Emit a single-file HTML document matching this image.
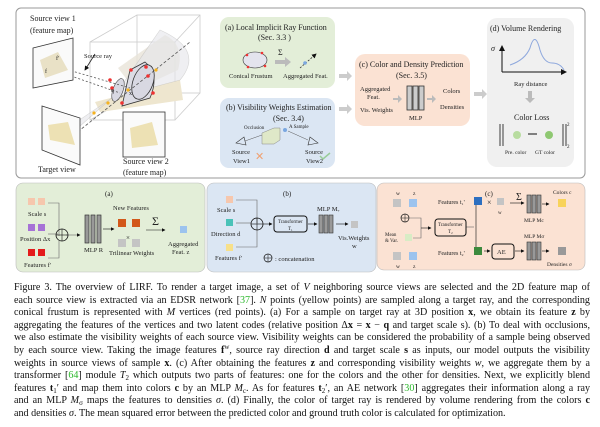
<!DOCTYPE html>
<html><head><meta charset="utf-8"><style>
body{margin:0;background:#fff;width:600px;height:427px;overflow:hidden;position:relative;font-family:"Liberation Serif",serif}
svg{position:absolute;left:0;top:0}
svg text{font-family:"Liberation Serif",serif;fill:#222}
#cap{position:absolute;left:14px;top:282px;width:576px;font-size:10.1px;line-height:12.6px;color:#111}
#cap div{text-align:justify;text-align-last:justify;white-space:nowrap;overflow:hidden;height:12.6px}
#cap div.l{text-align-last:left}
#cap sup,#cap sub{font-size:7px;line-height:0;vertical-align:baseline;position:relative}
#cap sup{top:-4px}#cap sub{top:2px}
.g{color:#2db82d}
</style></head><body>
<svg width="600" height="280" viewBox="0 0 600 280">
<defs>
<marker id="ah" markerWidth="6" markerHeight="6" refX="5" refY="3" orient="auto"><path d="M0,0L6,3L0,6z" fill="#111"/></marker>
</defs>
<rect x="16" y="8" width="569" height="170" rx="5" fill="#fff" stroke="#999" stroke-width="1"/>
<g stroke="#ccc" fill="none" stroke-width="0.8">
<rect x="137" y="15" width="63" height="78"/><rect x="90" y="42" width="85" height="78"/>
<line x1="90" y1="42" x2="137" y2="15"/><line x1="175" y1="42" x2="200" y2="15"/><line x1="175" y1="120" x2="200" y2="93"/><line x1="90" y1="120" x2="137" y2="93"/>
</g>
<path d="M118,68 L165,35 Q185,45 178,70 L135,90 Z" fill="#e8e4d8" opacity="0.8"/>
<path d="M95,102 L180,80 L183,100 L100,112Z" fill="#eee6cf"/>
<path d="M160,30 Q205,50 180,80 L112,98 L72,125 L70,135 L115,95 Z" fill="#e6e6ea" opacity="0.6" stroke="#bbb" stroke-width="0.6"/>
<path d="M130,70 L145,62 Q160,75 150,98 L122,106 Z" fill="#dcdce4" stroke="#333" stroke-width="0.8"/>
<ellipse cx="143" cy="82" rx="10" ry="18" fill="#d8d8e2" stroke="#333" stroke-width="0.8" transform="rotate(20 143 82)"/>
<ellipse cx="118" cy="90" rx="5" ry="12" fill="#d8d8e2" stroke="#444" stroke-width="0.6" transform="rotate(20 118 90)"/>
<line x1="70" y1="138" x2="190" y2="42" stroke="#555" stroke-dasharray="3,2" stroke-width="0.8"/>
<line x1="48" y1="64" x2="130" y2="88" stroke="#555" stroke-dasharray="2,2" stroke-width="0.8"/>
<line x1="48" y1="68" x2="120" y2="93" stroke="#555" stroke-dasharray="2,2" stroke-width="0.8"/>
<line x1="95" y1="54" x2="85" y2="70" stroke="#222" marker-end="url(#ah)" stroke-width="0.8"/>
<g fill="#e33"><circle cx="131" cy="70" r="1.8"/><circle cx="146" cy="67" r="1.8"/><circle cx="153" cy="93" r="1.8"/><circle cx="122" cy="103" r="1.8"/><circle cx="112" cy="88" r="1.8"/><circle cx="110" cy="80" r="1.8"/><circle cx="148" cy="76" r="1.8"/><circle cx="47" cy="65" r="2"/></g>
<g fill="#f5b21f"><circle cx="156" cy="70" r="1.6"/><circle cx="128" cy="90" r="1.6"/><circle cx="108" cy="103" r="1.6"/><circle cx="94" cy="113" r="1.6"/><circle cx="52" cy="62" r="1.6"/></g>
<text x="111" y="92" font-size="6">q</text><text x="129" y="95" font-size="6">x</text>
<text x="84" y="58" font-size="6.5">Source ray</text>
<polygon points="33,48 73,38 73,80 33,88" fill="#fafafa" stroke="#333" stroke-width="0.8"/>
<path d="M40,60 L58,52 L68,70 L45,78Z" fill="#e9e1c6"/>
<text x="30" y="21" font-size="8">Source view 1</text><text x="30" y="33" font-size="8">(feature map)</text>
<text x="45" y="73" font-size="6">f</text><text x="56" y="60" font-size="6">f'</text>
<polygon points="42,106 80,118 80,165 42,150" fill="#fafafa" stroke="#333" stroke-width="0.8"/>
<path d="M48,125 L68,122 L75,145 L50,140Z" fill="#ede1b4"/>
<text x="38" y="172" font-size="8">Target view</text>
<rect x="123" y="112" width="42" height="45" fill="#fafafa" stroke="#333" stroke-width="0.8"/>
<path d="M130,128 L152,122 L158,145 L132,148Z" fill="#ede1b4"/>
<text x="123" y="164" font-size="8">Source view 2</text><text x="123" y="175" font-size="8">(feature map)</text>
<rect x="220" y="17" width="115" height="71" rx="9" fill="#e3eed8"/>
<text x="225" y="30" font-size="8">(a) Local Implicit Ray Function</text>
<text x="258" y="40" font-size="8">(Sec. 3.3 )</text>
<ellipse cx="255" cy="60" rx="12" ry="8" fill="#e4e4ee" stroke="#333" stroke-width="0.6"/>
<g fill="#e33"><circle cx="247" cy="55" r="1.3"/><circle cx="262" cy="53" r="1.3"/><circle cx="265" cy="66" r="1.3"/><circle cx="248" cy="67" r="1.3"/></g>
<text x="229" y="78" font-size="6.5">Conical Frustum</text>
<path d="M275,60 h10 v-3 l6,5 l-6,5 v-3 h-10z" fill="#bbb"/>
<text x="278" y="55" font-size="8">Σ</text>
<line x1="300" y1="68" x2="316" y2="54" stroke="#333" stroke-dasharray="2,1.5" stroke-width="0.8" marker-end="url(#ah)"/>
<circle cx="305" cy="63" r="1.8" fill="#7aa7e0"/>
<text x="283" y="78" font-size="6.5">Aggregated Feat.</text>
<rect x="220" y="98" width="115" height="70" rx="9" fill="#dbe6f3"/>
<text x="226" y="110" font-size="8">(b) Visibility Weights Estimation</text>
<text x="273" y="121" font-size="8">(Sec. 3.4)</text>
<path d="M262,133 l12,-5 h6 v12 l-6,4 h-12z" fill="#dfe8c8" stroke="#888" stroke-width="0.5"/>
<text x="244" y="129" font-size="5">Occlusion</text><text x="289" y="128" font-size="5">A Sample</text>
<circle cx="285" cy="130" r="2" fill="#7aa7e0"/>
<path d="M236,143 l8,-6 l2,8z" fill="none" stroke="#333" stroke-width="0.6"/>
<path d="M318,143 l-8,-6 l-2,8z" fill="none" stroke="#333" stroke-width="0.6"/>
<line x1="245" y1="141" x2="262" y2="135" stroke="#555" stroke-width="0.5"/>
<line x1="308" y1="140" x2="288" y2="131" stroke="#555" stroke-width="0.5"/>
<text x="232" y="154" font-size="6.5">Source</text><text x="233" y="163" font-size="6.5">View1</text>
<text x="255" y="160" font-size="11" style="fill:#f0a070">✕</text>
<text x="305" y="154" font-size="6.5">Source</text><text x="306" y="163" font-size="6.5">View2</text>
<path d="M320,156 l3,3 l7,-6" stroke="#9c9" fill="none" stroke-width="1.5"/>
<path d="M339,74 h8 v-3 l5,5 l-5,5 v-3 h-8z" fill="#ccc"/>
<path d="M339,107 h8 v-3 l5,5 l-5,5 v-3 h-8z" fill="#ccc"/>
<rect x="355" y="54" width="115" height="72" rx="10" fill="#fbe2d3"/>
<text x="359" y="67" font-size="8">(c) Color and Density Prediction</text>
<text x="396" y="78" font-size="8">(Sec. 3.5)</text>
<text x="360" y="91" font-size="6.5">Aggregated</text><text x="367" y="99" font-size="6.5">Feat.</text>
<text x="360" y="112" font-size="6.5">Vis. Weights</text>
<path d="M393,98 h5 v-3 l4,4 l-4,4 v-3 h-5z" fill="#bbb"/>
<g fill="#ccc" stroke="#333" stroke-width="0.8"><rect x="407" y="86" width="5" height="24"/><rect x="413" y="86" width="5" height="24"/><rect x="419" y="86" width="5" height="24"/></g>
<text x="409" y="120" font-size="6.5">MLP</text>
<path d="M427,98 h5 v-3 l4,4 l-4,4 v-3 h-5z" fill="#bbb"/>
<text x="443" y="93" font-size="6.5">Colors</text><text x="440" y="109" font-size="6.5">Densities</text>
<path d="M474,92 h8 v-3 l5,5 l-5,5 v-3 h-8z" fill="#ccc"/>
<rect x="487" y="18" width="87" height="149" rx="10" fill="#f0f0f0"/>
<text x="490" y="31" font-size="8">(d)  Volume Rendering</text>
<text x="491" y="51" font-size="8" font-style="italic">σ</text>
<line x1="502" y1="72" x2="502" y2="46" stroke="#111" stroke-width="1" marker-end="url(#ah)"/>
<line x1="502" y1="72" x2="566" y2="72" stroke="#111" stroke-width="1" marker-end="url(#ah)"/>
<path d="M510,65 Q525,60 530,48 Q535,30 540,50 Q544,63 552,63 Q560,63 564,70" fill="none" stroke="#8ea8dd" stroke-width="1"/>
<text x="514" y="86" font-size="6.5">Ray distance</text>
<path d="M528,91 h4 v7 h3 l-5,5 l-5,-5 h3z" fill="#bbb"/>
<text x="514" y="120" font-size="8">Color Loss</text>
<line x1="500" y1="124" x2="500" y2="146" stroke="#111" stroke-width="0.8"/><line x1="503" y1="124" x2="503" y2="146" stroke="#111" stroke-width="0.8"/>
<line x1="563" y1="124" x2="563" y2="146" stroke="#111" stroke-width="0.8"/><line x1="566" y1="124" x2="566" y2="146" stroke="#111" stroke-width="0.8"/>
<text x="567" y="126" font-size="5">2</text><text x="567" y="148" font-size="5">2</text>
<circle cx="517" cy="135" r="4" fill="#b8dca0"/><circle cx="549" cy="135" r="4" fill="#8fc872"/>
<line x1="528" y1="134" x2="537" y2="134" stroke="#111" stroke-width="1"/>
<text x="505" y="154" font-size="5.5">Pre. color</text><text x="535" y="154" font-size="5.5">GT color</text>

<rect x="16" y="183" width="189" height="89" rx="7" fill="#e3eed8" stroke="#bbb" stroke-width="0.6"/>
<text x="105" y="196" font-size="7">(a)</text>
<g stroke="#666" stroke-width="0.6" fill="none">
<path d="M48,203 h11 v33"/><path d="M48,234 h10"/><path d="M48,258 h11 v-17"/>
<line x1="66" y1="235" x2="80" y2="235" marker-end="url(#ah)"/>
<line x1="103" y1="229" x2="114" y2="229" stroke="#111" marker-end="url(#ah)"/>
<line x1="146" y1="230" x2="165" y2="230" stroke="#111" marker-end="url(#ah)"/>
</g>
<g fill="#f6c7ad"><rect x="28" y="198" width="7" height="7"/><rect x="38" y="198" width="7" height="7"/></g>
<g fill="#a672d6"><rect x="28" y="224" width="7" height="7"/><rect x="38" y="224" width="7" height="7"/></g>
<g fill="#e41b1b"><rect x="28" y="249" width="7" height="7"/><rect x="38" y="249" width="7" height="7"/></g>
<text x="28" y="216" font-size="6.5">Scale s</text><text x="20" y="241" font-size="6.5">Position Δx</text><text x="24" y="267" font-size="6.5">Features f'</text>
<circle cx="62" cy="235" r="6" fill="none" stroke="#111" stroke-width="0.8"/><line x1="56" y1="235" x2="68" y2="235" stroke="#111" stroke-width="0.6"/><line x1="62" y1="229" x2="62" y2="241" stroke="#111" stroke-width="0.6"/>
<g fill="#999" stroke="#333" stroke-width="0.7"><rect x="85" y="215" width="4" height="28"/><rect x="91" y="215" width="4" height="28"/><rect x="97" y="215" width="4" height="28"/></g>
<text x="84" y="252" font-size="6.5">MLP R</text>
<text x="113" y="210" font-size="6.5">New Features</text>
<g fill="#d2581a"><rect x="118" y="219" width="8" height="8"/><rect x="132" y="219" width="8" height="8"/></g>
<text x="126" y="240" font-size="7">×</text>
<g fill="#c4c4c4"><rect x="118" y="239" width="8" height="8"/><rect x="132" y="239" width="8" height="8"/></g>
<text x="109" y="255" font-size="6.5">Trilinear Weights</text>
<text x="152" y="225" font-size="12">Σ</text>
<rect x="180" y="226" width="7" height="7" fill="#9cc3ee"/>
<text x="168" y="246" font-size="6.5">Aggregated</text><text x="172" y="254" font-size="6.5">Feat. z</text>

<rect x="207" y="183" width="169" height="89" rx="7" fill="#dbe6f3" stroke="#bbb" stroke-width="0.6"/>
<text x="283" y="196" font-size="7">(b)</text>
<g stroke="#666" stroke-width="0.6" fill="none">
<path d="M236,200 h21 v23"/><path d="M236,223 h15"/><path d="M236,247 h21 v-17"/>
<line x1="263" y1="224" x2="272" y2="224" stroke="#111" marker-end="url(#ah)"/>
<line x1="308" y1="224" x2="317" y2="224" stroke="#111" marker-end="url(#ah)"/>
<line x1="336" y1="224" x2="348" y2="224" stroke="#111" marker-end="url(#ah)"/>
</g>
<rect x="226" y="196" width="7" height="7" fill="#f6c7ad"/><rect x="226" y="219" width="7" height="7" fill="#4ac2b8"/><rect x="226" y="244" width="7" height="7" fill="#f7e08a"/>
<text x="217" y="212" font-size="6.5">Scale s</text><text x="211" y="236" font-size="6.5">Direction d</text><text x="215" y="260" font-size="6.5">Features f'</text>
<circle cx="257" cy="224" r="6" fill="none" stroke="#111" stroke-width="0.8"/><line x1="251" y1="224" x2="263" y2="224" stroke="#111" stroke-width="0.6"/><line x1="257" y1="218" x2="257" y2="230" stroke="#111" stroke-width="0.6"/>
<rect x="274" y="216" width="33" height="16" rx="3" fill="none" stroke="#111" stroke-width="1"/>
<text x="278" y="223" font-size="5">Transformer</text><text x="288" y="230" font-size="5">T₁</text>
<text x="317" y="211" font-size="6.5">MLP Mᵥ</text>
<g fill="#999" stroke="#333" stroke-width="0.6"><rect x="319" y="215" width="4" height="18"/><rect x="324" y="215" width="4" height="18"/><rect x="329" y="215" width="4" height="18"/></g>
<rect x="351" y="221" width="7" height="7" fill="#c4c4c4"/>
<text x="338" y="240" font-size="6.5">Vis.Weights</text><text x="352" y="248" font-size="6.5">w</text>
<circle cx="268" cy="258" r="4" fill="none" stroke="#111" stroke-width="0.7"/><line x1="264" y1="258" x2="272" y2="258" stroke="#111" stroke-width="0.5"/><line x1="268" y1="254" x2="268" y2="262" stroke="#111" stroke-width="0.5"/>
<text x="275" y="261" font-size="6.5">: concatenation</text>

<rect x="377" y="183" width="208" height="87" rx="7" fill="#fbe2d3" stroke="#bbb" stroke-width="0.6"/>
<text x="485" y="196" font-size="7">(c)</text>
<text x="396" y="195" font-size="5.5">w</text><text x="413" y="195" font-size="5.5">z</text>
<rect x="393" y="199" width="8" height="8" fill="#c4c4c4"/><rect x="409" y="199" width="8" height="8" fill="#9cc3ee"/>
<circle cx="405" cy="218" r="4" fill="none" stroke="#111" stroke-width="0.7"/><line x1="401" y1="218" x2="409" y2="218" stroke="#111" stroke-width="0.5"/><line x1="405" y1="214" x2="405" y2="222" stroke="#111" stroke-width="0.5"/>
<text x="385" y="236" font-size="5">Mean</text><text x="385" y="242" font-size="5">&amp; Var.</text>
<rect x="405" y="234" width="7" height="7" fill="#d8ecc5"/>
<rect x="393" y="252" width="8" height="8" fill="#c4c4c4"/><rect x="409" y="252" width="8" height="8" fill="#9cc3ee"/>
<text x="396" y="268" font-size="5.5">w</text><text x="413" y="268" font-size="5.5">z</text>
<g stroke="#666" stroke-width="0.6" fill="none"><path d="M409,218 h12 v20 h-8"/><path d="M421,228 h10" stroke="#111" marker-end="url(#ah)"/><path d="M466,227 h8"/><path d="M476,205 v47" stroke="#111"/></g>
<rect x="435" y="219" width="31" height="17" rx="3" fill="none" stroke="#111" stroke-width="1"/>
<text x="438" y="226" font-size="5">Transformer</text><text x="448" y="233" font-size="5">T₂</text>
<text x="438" y="204" font-size="6">Features t₁'</text>
<rect x="474" y="197" width="8" height="8" fill="#2d6fc0"/>
<text x="487" y="205" font-size="8">×</text>
<rect x="497" y="198" width="7" height="7" fill="#c4c4c4"/><text x="498" y="214" font-size="5">w</text>
<text x="516" y="200" font-size="10">Σ</text>
<line x1="510" y1="203" x2="524" y2="203" stroke="#111" stroke-width="0.6" marker-end="url(#ah)"/>
<g fill="#999" stroke="#333" stroke-width="0.6"><rect x="527" y="195" width="4" height="18"/><rect x="532" y="195" width="4" height="18"/><rect x="537" y="195" width="4" height="18"/></g>
<line x1="542" y1="204" x2="549" y2="204" stroke="#111" stroke-width="0.6" marker-end="url(#ah)"/>
<text x="524" y="222" font-size="5.5">MLP Mc</text>
<text x="553" y="194" font-size="5.5">Colors c</text><rect x="558" y="199" width="8" height="8" fill="#f8d35a"/>
<text x="438" y="255" font-size="6">Features t₂'</text>
<rect x="474" y="247" width="8" height="8" fill="#3d8a3d"/>
<line x1="484" y1="251" x2="490" y2="251" stroke="#111" stroke-width="0.6" marker-end="url(#ah)"/>
<rect x="492" y="244" width="22" height="15" rx="3" fill="none" stroke="#111" stroke-width="1"/>
<text x="497" y="254" font-size="6.5">AE</text>
<line x1="515" y1="251" x2="524" y2="251" stroke="#111" stroke-width="0.6" marker-end="url(#ah)"/>
<text x="524" y="238" font-size="5.5">MLP Mσ</text>
<g fill="#999" stroke="#333" stroke-width="0.6"><rect x="527" y="242" width="4" height="18"/><rect x="532" y="242" width="4" height="18"/><rect x="537" y="242" width="4" height="18"/></g>
<line x1="542" y1="251" x2="549" y2="251" stroke="#111" stroke-width="0.6" marker-end="url(#ah)"/>
<rect x="558" y="247" width="8" height="8" fill="#999"/>
<text x="547" y="266" font-size="5.5">Densities σ</text>
</svg>
<div id="cap">
<div>Figure 3. The overview of LIRF. To render a target image, a set of <i>V</i> neighboring source views are selected and the 2D feature map of</div>
<div>each source view is extracted via an EDSR network [<span class="g">37</span>]. <i>N</i> points (yellow points) are sampled along a target ray, and the corresponding</div>
<div>conical frustum is represented with <i>M</i> vertices (red points). (a) For a sample on target ray at 3D position <b>x</b>, we obtain its feature <b>z</b> by</div>
<div>aggregating the features of the vertices and two latent codes (relative position Δ<b>x</b> = <b>x</b> − <b>q</b> and target scale s). (b) To deal with occlusions,</div>
<div>we also estimate the visibility weights of each source view. Visibility weights can be considered the probability of a sample being observed</div>
<div>by each source view. Taking the image features <b>f</b><sup>w</sup>, source ray direction <b>d</b> and target scale <b>s</b> as inputs, our model outputs the visibility</div>
<div>weights in source views of sample <b>x</b>. (c) After obtaining the features <b>z</b> and corresponding visibility weights <i>w</i>, we aggregate them by a</div>
<div>transformer [<span class="g">64</span>] module <i>T</i><sub>2</sub> which outputs two parts of features: one for the colors and the other for densities. Next, we explicitly blend</div>
<div>features <b>t</b><sub>1</sub>′ and map them into colors <b>c</b> by an MLP <i>M</i><sub>c</sub>. As for features <b>t</b><sub>2</sub>′, an AE network [<span class="g">30</span>] aggregates their information along a ray</div>
<div>and an MLP <i>M</i><sub>σ</sub> maps the features to densities <i>σ</i>. (d) Finally, the color of target ray is rendered by volume rendering from the colors <b>c</b></div>
<div class="l">and densities <i>σ</i>. The mean squared error between the predicted color and ground truth color is calculated for optimization.</div>
</div>
</body></html>
